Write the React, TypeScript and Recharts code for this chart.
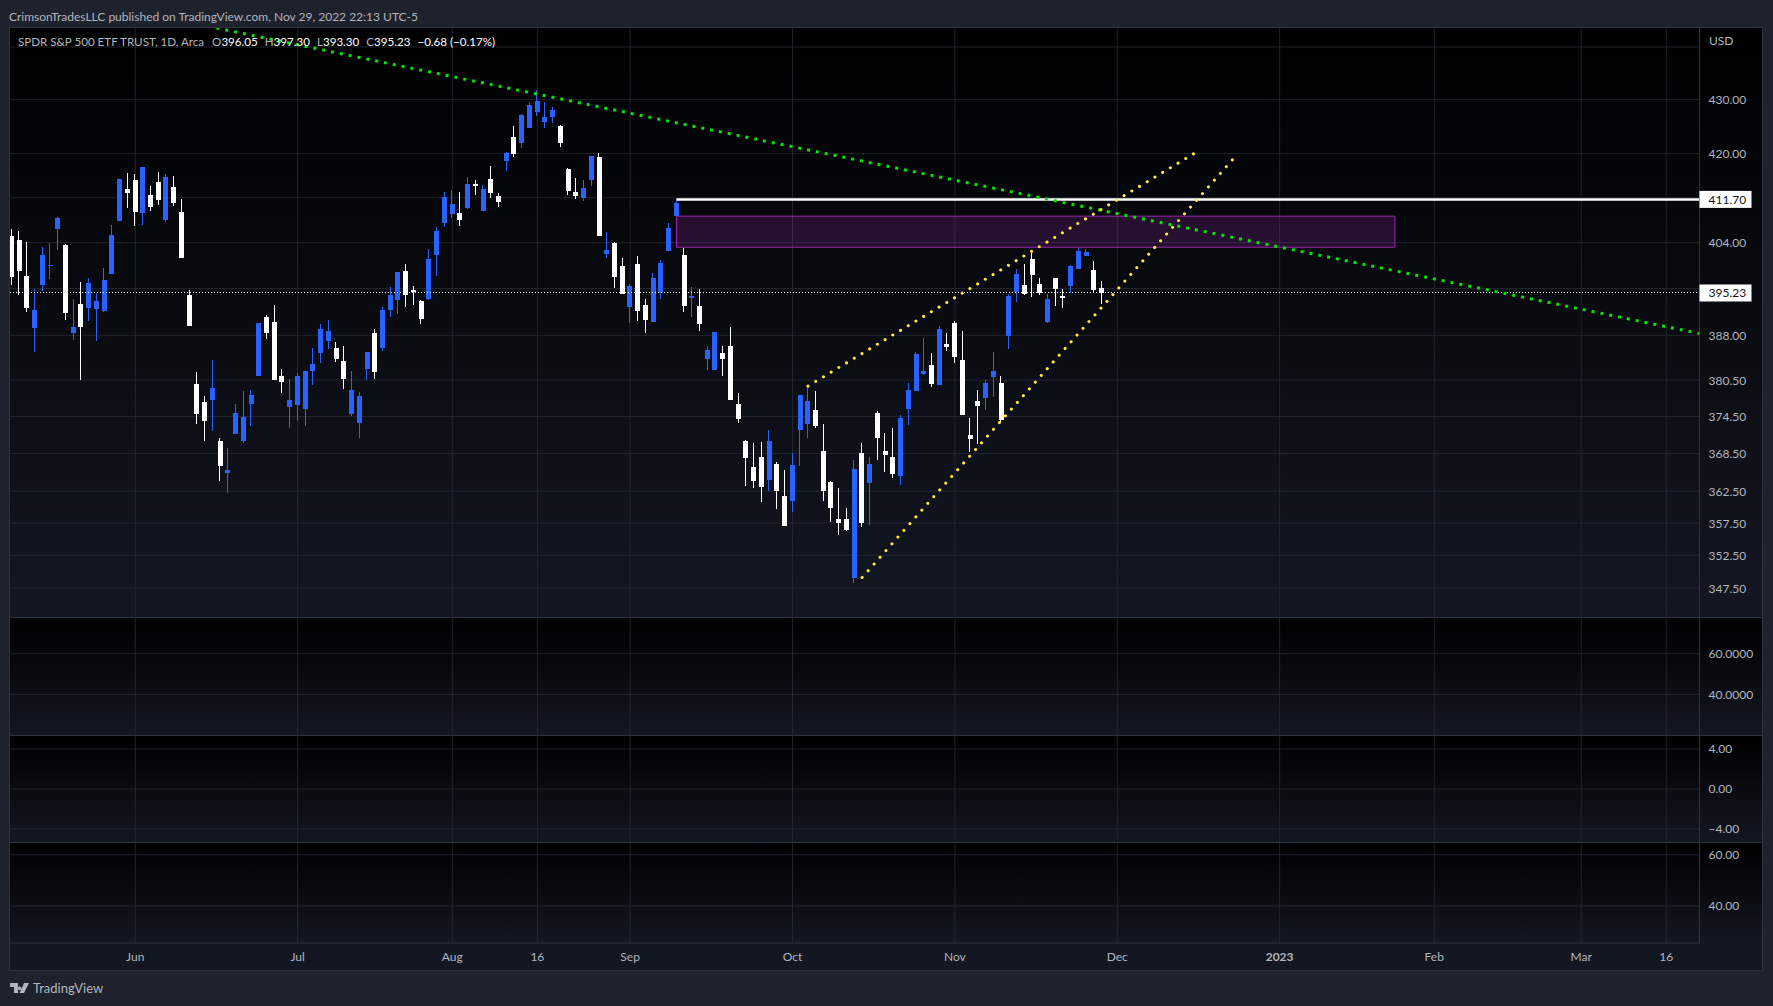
import { Bar, CartesianGrid, ComposedChart, Line, ReferenceArea, ReferenceLine, XAxis, YAxis } from 'recharts';

// trading days counted from Jun 1 2022 (= 0)
const firstDay = -16;
const opens = [
  405.2, 404.5, 398.2, 389.2, 396.6, 399.9, 406.4, 403.6, 388.4, 393.3,
  392.7, 392.5, 392.1, 398.5, 407.8, 413.6, 415.2, 409.3, 412.5, 414.8,
  408.0, 413.9, 409.4, 394.9, 379.9, 376.9, 377.2, 370.5, 365.4, 371.7,
  370.5, 376.6, 381.2, 391.1, 390.3, 381.2, 376.1, 376.4, 375.7, 382.0,
  385.0, 387.1, 385.9, 383.7, 374.9, 373.5, 382.3, 388.4, 385.9, 392.3,
  394.0, 399.0, 395.8, 393.9, 394.2, 401.8, 407.5, 409.1, 409.3, 410.2,
  414.5, 409.6, 415.4, 412.3, 418.6, 423.1, 422.0, 424.7, 427.7, 425.8,
  426.8, 425.1, 417.2, 413.0, 412.0, 415.2, 419.4, 402.0, 404.0, 399.9,
  392.8, 400.3, 393.2, 390.3, 395.2, 402.5, 408.7, 401.8, 394.4, 393.0,
  384.0, 382.2, 385.0, 386.2, 376.6, 370.5, 366.4, 368.0, 364.3, 366.8,
  361.8, 361.0, 372.3, 373.3, 375.6, 368.9, 364.0, 358.2, 358.2, 349.1,
  368.6, 363.8, 375.1, 368.9, 368.0, 364.9, 375.7, 378.7, 381.5, 383.0,
  379.7, 386.5, 390.1, 383.9, 371.5, 377.1, 377.5, 381.0, 380.0, 387.9,
  395.4, 396.6, 401.1, 396.8, 390.3, 397.8, 394.7, 396.4, 399.4, 401.7, 399.2, 396.05,
];
const closes = [
  398.0, 399.0, 392.7, 392.3, 401.8, 400.1, 408.4, 391.8, 389.4, 389.4,
  397.0, 393.9, 397.5, 405.4, 415.4, 412.9, 409.4, 417.6, 410.3, 411.6,
  415.7, 411.1, 401.3, 389.6, 374.9, 373.8, 379.2, 366.5, 365.9, 375.1,
  374.4, 378.0, 390.1, 388.4, 380.5, 380.2, 377.2, 381.2, 382.0, 383.2,
  389.1, 388.7, 384.0, 380.7, 378.9, 377.9, 385.2, 381.9, 392.3, 394.9,
  398.9, 394.9, 395.4, 390.8, 401.1, 406.1, 412.1, 410.9, 408.0, 414.5,
  414.1, 413.6, 412.9, 411.2, 420.1, 419.9, 427.1, 429.0, 429.8, 426.8,
  428.1, 422.0, 413.2, 412.3, 413.8, 419.6, 405.2, 402.7, 398.0, 395.1,
  396.4, 392.1, 390.6, 397.8, 400.4, 406.6, 411.1, 393.0, 394.7, 389.9,
  385.5, 388.6, 384.0, 377.2, 374.1, 367.8, 364.1, 363.2, 370.5, 362.6,
  357.1, 366.7, 378.0, 377.1, 373.0, 362.6, 359.9, 357.5, 356.4, 366.0,
  357.5, 366.8, 371.0, 368.3, 365.3, 374.3, 378.9, 384.9, 382.0, 379.9,
  389.1, 386.0, 384.3, 374.8, 370.9, 376.2, 380.0, 382.0, 374.0, 394.7,
  398.5, 395.1, 398.3, 395.2, 394.2, 395.9, 394.4, 399.9, 402.5, 402.4, 395.8, 395.23,
];
const highs = [
  406.4, 406.1, 404.1, 395.9, 403.2, 404.0, 408.6, 403.8, 394.2, 397.1,
  397.8, 395.2, 399.6, 407.1, 415.4, 416.5, 416.3, 417.6, 414.1, 416.6,
  416.3, 415.9, 411.8, 395.8, 381.9, 377.9, 383.9, 371.0, 369.4, 376.6,
  378.7, 378.9, 390.1, 391.5, 393.2, 382.3, 380.7, 381.7, 382.0, 385.9,
  389.9, 390.6, 386.9, 386.2, 382.0, 378.5, 385.2, 389.1, 392.8, 396.3,
  398.9, 400.3, 396.4, 394.0, 402.9, 406.8, 413.0, 413.4, 413.0, 415.7,
  415.2, 414.3, 417.7, 412.9, 420.3, 425.1, 427.3, 429.6, 431.8, 429.6,
  428.6, 425.3, 417.4, 415.6, 415.2, 419.6, 420.1, 405.9, 404.1, 401.3,
  396.8, 401.7, 394.2, 398.7, 401.0, 407.5, 411.8, 403.1, 396.3, 395.9,
  386.2, 388.6, 386.2, 389.4, 378.4, 370.7, 370.2, 370.4, 372.3, 367.2,
  365.9, 368.6, 378.0, 379.5, 378.7, 373.3, 364.1, 363.0, 359.9, 367.5,
  370.2, 368.0, 375.4, 371.8, 372.6, 374.8, 380.0, 385.2, 387.6, 385.0,
  389.6, 388.4, 390.4, 388.7, 374.3, 378.9, 380.5, 385.2, 381.2, 395.1,
  399.4, 400.3, 402.4, 397.8, 395.1, 397.8, 395.9, 400.1, 403.1, 402.9, 400.8, 397.3,
];
const lows = [
  396.6, 394.9, 392.0, 385.2, 395.6, 397.7, 402.7, 390.6, 387.2, 380.5,
  390.4, 387.1, 392.0, 398.5, 407.8, 410.2, 407.0, 407.1, 409.6, 410.7,
  407.7, 410.5, 401.3, 389.6, 373.3, 370.5, 372.2, 364.1, 362.2, 371.7,
  370.2, 373.0, 381.2, 387.4, 380.5, 378.4, 372.6, 373.8, 373.0, 379.7,
  383.3, 385.7, 383.5, 379.0, 374.6, 371.0, 380.5, 380.7, 385.4, 391.1,
  391.6, 392.8, 393.2, 389.9, 394.0, 398.2, 406.8, 408.4, 407.0, 410.0,
  412.5, 409.6, 412.0, 410.3, 416.8, 419.4, 421.0, 424.7, 427.0, 424.7,
  425.7, 421.2, 412.5, 411.8, 411.4, 414.1, 405.2, 401.3, 396.1, 395.1,
  390.1, 390.4, 388.4, 390.3, 394.2, 402.5, 408.7, 392.0, 391.1, 388.7,
  382.2, 382.2, 381.2, 377.2, 373.5, 363.3, 363.0, 360.8, 362.6, 359.7,
  357.1, 359.2, 366.5, 371.0, 372.6, 361.0, 357.7, 355.7, 356.3, 348.2,
  356.9, 357.2, 367.5, 365.6, 364.6, 363.5, 373.1, 378.7, 381.3, 379.4,
  379.7, 385.4, 383.3, 374.8, 368.8, 370.1, 375.6, 377.7, 373.6, 385.7,
  393.7, 394.9, 394.5, 394.9, 390.1, 393.0, 392.7, 395.2, 399.4, 401.7, 395.2, 393.3,
];

const timeTickDays = [0, 21, 41, 52, 64, 85, 106, 127, 148, 168, 187, 198];
const timeTickLabels = ['Jun', 'Jul', 'Aug', '16', 'Sep', 'Oct', 'Nov', 'Dec', '2023', 'Feb', 'Mar', '16'];
const dayDomain = [-16.2, 202.3];

const gridPrices = [440, 430, 420, 412, 404, 396, 388, 380.5, 374.5, 368.5, 362.5, 357.5, 352.5, 347.5];
const priceLabels = [430, 420, 404, 388, 380.5, 374.5, 368.5, 362.5, 357.5, 352.5, 347.5];
const badgePrices = [411.7, 395.23];
const priceDomain = [343.14, 443.66];

const greenDays = [10.5, 202.3];
const greenPrices = [443.66, 388.3];
const upperDays = [87, 137.6];
const upperPrices = [379.5, 420.6];
const lowerDays = [94, 142.6];
const lowerPrices = [349.1, 420];

const zoneDays = [70, 162.9];
const zonePrices = [403.2, 408.7];
const resistanceStartDay = 70;
const resistance = 411.7;
const lastPrice = 395.23;

const oscTicks = [60, 40];
const oscDomain = [20, 78.1];
const macdTicks = [4, 0, -4];
const macdDomain = [-5.3, 5.41];
const rsiTicks = [60, 40];
const rsiDomain = [25.6, 65];

const candles = opens.map((open, i) => ({
  day: firstDay + i,
  open,
  close: closes[i],
  wick: [lows[i], highs[i]],
  body: [Math.min(open, closes[i]), Math.max(open, closes[i])],
}));
const trend = (days: number[], prices: number[]) => days.map((day, i) => ({ day, price: prices[i] }));

const UP = '#2962ff';
const DOWN = '#ffffff';
const TEXT = '#b2b5be';
const GRID = 'rgba(42,46,57,0.75)';
const BORDER = '#2f333e';
const FONT = 'Lato, "Liberation Sans", sans-serif';
const AXIS_W = 62.5;
const CHART_L = 10;
const CHART_W = 1752;
const paneBg = 'linear-gradient(#000000, #131722)';

// body is 5px and wick 1px wide, both centred on the slot the bar gets from the axis
const candlePart = (w: number) => (props: any) => {
  const up = props.payload.close >= props.payload.open;
  const cx = props.x + props.width / 2;
  return <rect x={Math.round(cx - w / 2)} y={props.y} width={w} height={Math.max(props.height, 1)} fill={up ? UP : DOWN} shapeRendering="crispEdges" />;
};

const PriceTick = (props: any) => {
  const { x, y, payload } = props;
  if (badgePrices.includes(payload.value)) {
    return (
      <g>
        <rect x={x - 9} y={y - 8.5} width={52} height={17} fill="#ffffff" />
        <text x={x} y={y + 4.5} fontSize={12} fontFamily={FONT} fill="#131722">{payload.value.toFixed(2)}</text>
      </g>
    );
  }
  return <text x={x} y={y + 4.5} fontSize={12} fontFamily={FONT} fill={TEXT}>{payload.value.toFixed(2)}</text>;
};

const TimeTick = (props: any) => {
  const { x, y, payload } = props;
  const label = timeTickLabels[timeTickDays.indexOf(payload.value)];
  return (
    <text x={x} y={y + 10} textAnchor="middle" fontSize={12} fontFamily={FONT} fill={TEXT} fontWeight={label === '2023' ? 700 : 400}>
      {label}
    </text>
  );
};

const valueLabel = (decimals: number) => (v: number) => v.toFixed(decimals).replace('-', '\u2212');

function SubPane({ top, height, ticks, domain, decimals, showTime }: any) {
  return (
    <div style={{ position: 'absolute', left: CHART_L, top, width: CHART_W, height: height + (showTime ? 27 : 0) }}>
      <div style={{ position: 'absolute', left: 0, top: 0, width: CHART_W, height, background: paneBg, borderTop: `1px solid ${BORDER}`, boxSizing: 'border-box' }} />
      <ComposedChart width={CHART_W} height={height + (showTime ? 27 : 0)} data={[]} margin={{ top: 0, right: 0, bottom: 0, left: 0 }} style={{ position: 'absolute' }}>
        <CartesianGrid stroke={GRID} horizontalValues={ticks} verticalValues={timeTickDays} />
        <XAxis
          dataKey="day"
          type="number"
          domain={dayDomain}
          allowDataOverflow
          ticks={timeTickDays}
          interval={0}
          hide={!showTime}
          height={27}
          axisLine={showTime ? { stroke: BORDER } : false}
          tickLine={false}
          tick={<TimeTick />}
        />
        <YAxis
          orientation="right"
          type="number"
          domain={domain}
          allowDataOverflow
          ticks={ticks}
          interval={0}
          width={AXIS_W}
          axisLine={{ stroke: BORDER }}
          tickLine={false}
          tickSize={0}
          tickMargin={9}
          tick={{ fill: TEXT, fontSize: 12, fontFamily: FONT }}
          tickFormatter={valueLabel(decimals)}
        />
      </ComposedChart>
    </div>
  );
}

const legendValues = [
  ['O', '396.05'],
  ['H', '397.30'],
  ['L', '393.30'],
  ['C', '395.23'],
];

export default function App() {
  return (
    <div style={{ position: 'fixed', left: 0, top: 0, width: 1773, height: 1006, background: '#1e222d', overflow: 'hidden', fontFamily: FONT }}>
      <div style={{ position: 'absolute', left: 9, top: 9, fontSize: 12, lineHeight: '16px', color: TEXT, whiteSpace: 'nowrap' }}>
        CrimsonTradesLLC published on TradingView.com, Nov 29, 2022 22:13 UTC-5
      </div>

      <div style={{ position: 'absolute', left: 9, top: 27, width: 1754, height: 944, border: `1px solid ${BORDER}`, boxSizing: 'border-box' }} />
      <div style={{ position: 'absolute', left: CHART_L, top: 943, width: CHART_W, height: 27, background: '#131722' }} />

      <div style={{ position: 'absolute', left: CHART_L, top: 28, width: CHART_W, height: 589, background: paneBg }}>
        <ComposedChart width={CHART_W} height={589} data={candles} margin={{ top: 0, right: 0, bottom: 0, left: 0 }}>
          <CartesianGrid xAxisId="body" stroke={GRID} horizontalValues={gridPrices} verticalValues={timeTickDays} />
          <XAxis xAxisId="body" dataKey="day" type="number" domain={dayDomain} allowDataOverflow ticks={timeTickDays} hide />
          <XAxis xAxisId="wick" dataKey="day" type="number" domain={dayDomain} allowDataOverflow ticks={timeTickDays} hide />
          <YAxis
            orientation="right"
            type="number"
            scale="log"
            domain={priceDomain}
            allowDataOverflow
            ticks={[...priceLabels, ...badgePrices]}
            interval={0}
            width={AXIS_W}
            axisLine={{ stroke: BORDER }}
            tickLine={false}
            tickSize={0}
            tickMargin={9}
            tick={<PriceTick />}
          />
          <Bar xAxisId="wick" dataKey="wick" barSize={1} shape={candlePart(1)} isAnimationActive={false} />
          <Bar xAxisId="body" dataKey="body" barSize={5} shape={candlePart(5)} isAnimationActive={false} />
          <ReferenceLine xAxisId="body" y={lastPrice} stroke="#ffffff" strokeWidth={1} strokeDasharray="1 2" shapeRendering="crispEdges" />
          <ReferenceLine
            xAxisId="body"
            segment={[{ x: resistanceStartDay, y: resistance }, { x: dayDomain[1], y: resistance }]}
            stroke="#ffffff"
            strokeWidth={2.5}
          />
          <Line xAxisId="body" data={trend(greenDays, greenPrices)} dataKey="price" stroke="#00e600" strokeWidth={3} strokeDasharray="3 6" dot={false} activeDot={false} isAnimationActive={false} />
          <Line xAxisId="body" data={trend(upperDays, upperPrices)} dataKey="price" stroke="#ffeb3b" strokeWidth={3} strokeLinecap="round" strokeDasharray="0.1 8.9" dot={false} activeDot={false} isAnimationActive={false} />
          <Line xAxisId="body" data={trend(lowerDays, lowerPrices)} dataKey="price" stroke="#ffeb3b" strokeWidth={3} strokeLinecap="round" strokeDasharray="0.1 8.9" dot={false} activeDot={false} isAnimationActive={false} />
          <ReferenceArea xAxisId="body" x1={zoneDays[0]} x2={zoneDays[1]} y1={zonePrices[0]} y2={zonePrices[1]} fill="#9c27b0" fillOpacity={0.22} stroke="#9c27b0" strokeWidth={1} />
        </ComposedChart>
      </div>

      <SubPane top={617} height={118} ticks={oscTicks} domain={oscDomain} decimals={4} />
      <SubPane top={735} height={107} ticks={macdTicks} domain={macdDomain} decimals={2} />
      <SubPane top={842} height={101} ticks={rsiTicks} domain={rsiDomain} decimals={2} showTime />

      <div style={{ position: 'absolute', left: 18, top: 34, fontSize: 11.6, lineHeight: '16px', color: TEXT, whiteSpace: 'nowrap' }}>
        <span>SPDR S&amp;P 500 ETF TRUST, 1D, Arca</span>
        {legendValues.map(([k, v], i) => (
          <span key={k} style={{ marginLeft: i === 0 ? 8 : 7 }}>
            {k}
            <span style={{ color: '#ffffff' }}>{v}</span>
          </span>
        ))}
        <span style={{ marginLeft: 7, color: '#ffffff' }}>{'\u22120.68 (\u22120.17%)'}</span>
      </div>

      <div style={{ position: 'absolute', left: 1709, top: 33, fontSize: 12, lineHeight: '16px', color: TEXT }}>USD</div>

      <svg style={{ position: 'absolute', left: 10, top: 983 }} width={20} height={11}>
        <path d="M0 0H8V10H4V4H0Z M9.5 3.5a1.8 1.8 0 1 0 0.01 0Z M14 0H19L14 10H9.5Z" fill={TEXT} />
      </svg>
      <div style={{ position: 'absolute', left: 33, top: 980, fontSize: 13, lineHeight: '17px', color: TEXT, whiteSpace: 'nowrap' }}>TradingView</div>
    </div>
  );
}
